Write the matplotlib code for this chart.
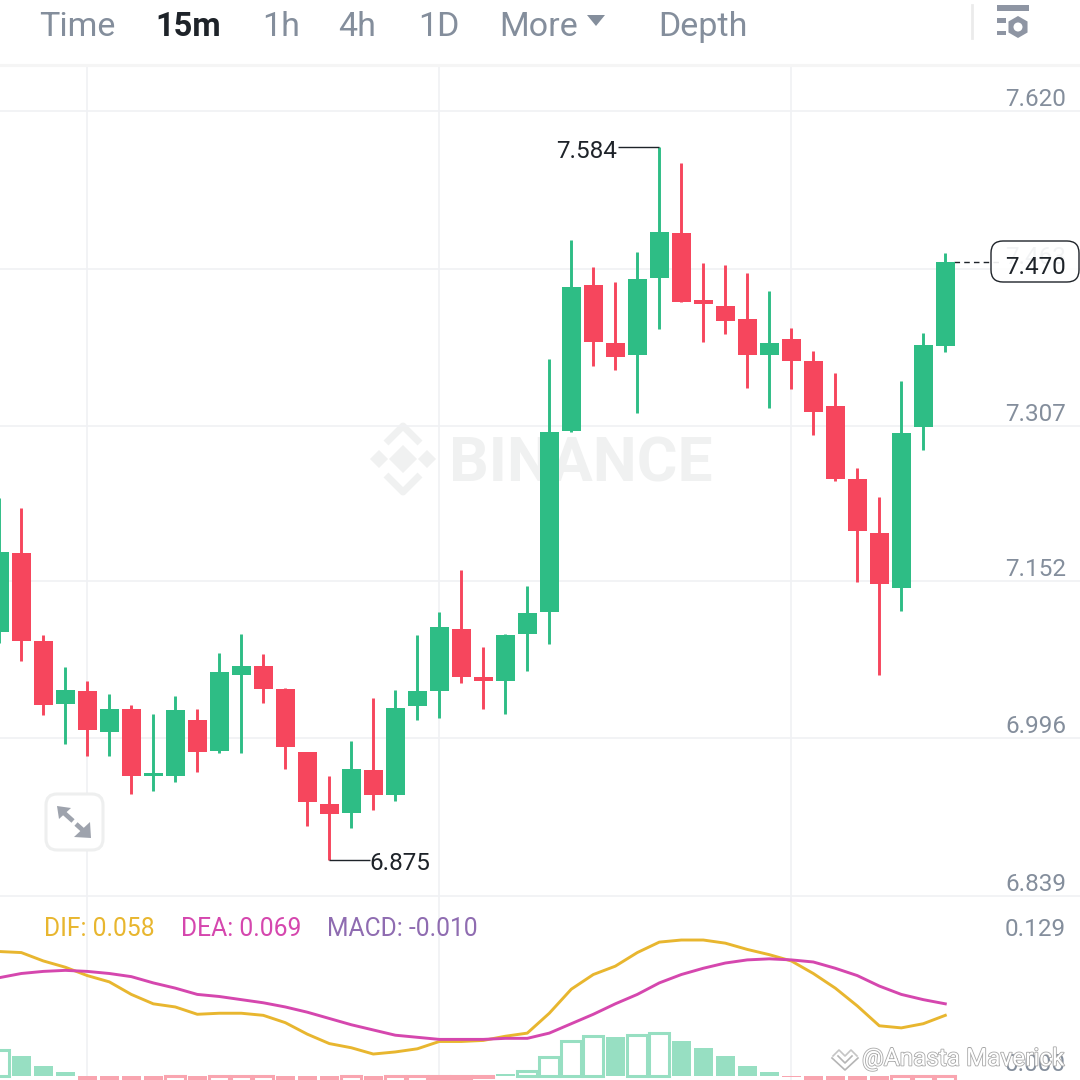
import numpy as np
import matplotlib
matplotlib.use('Agg')
import matplotlib.pyplot as plt
import matplotlib.patheffects as pe
from matplotlib.patches import FancyBboxPatch, Polygon, RegularPolygon, Circle

# candles, oldest first
opens = [7.102, 7.180, 7.093, 7.030, 7.043, 7.002, 7.025, 6.958, 6.958, 7.014, 6.983,
         7.059, 7.068, 7.045, 6.982, 6.931, 6.922, 6.964, 6.940, 7.028, 7.043, 7.105,
         7.057, 7.053, 7.100, 7.122, 7.302, 7.447, 7.389, 7.377, 7.454, 7.499, 7.432,
         7.426, 7.413, 7.377, 7.393, 7.371, 7.327, 7.254, 7.200, 7.146, 7.306, 7.386]
highs = [7.235, 7.225, 7.099, 7.067, 7.053, 7.040, 7.029, 7.020, 7.038, 7.025, 7.081,
         7.100, 7.080, 7.046, 6.982, 6.958, 6.993, 7.036, 7.044, 7.099, 7.122, 7.163,
         7.087, 7.100, 7.148, 7.373, 7.492, 7.465, 7.450, 7.480, 7.584, 7.568, 7.469,
         7.467, 7.459, 7.441, 7.404, 7.381, 7.359, 7.265, 7.236, 7.352, 7.399, 7.479]
lows = [7.091, 7.073, 7.019, 6.990, 6.978, 6.978, 6.941, 6.943, 6.952, 6.962, 6.981,
        6.981, 7.031, 6.965, 6.909, 6.875, 6.907, 6.925, 6.934, 7.014, 7.016, 7.051,
        7.025, 7.020, 7.063, 7.090, 7.301, 7.366, 7.362, 7.320, 7.403, 7.430, 7.390,
        7.398, 7.345, 7.325, 7.344, 7.298, 7.252, 7.151, 7.059, 7.123, 7.283, 7.380]
closes = [7.181, 7.093, 7.029, 7.044, 7.004, 7.025, 6.958, 6.961, 7.024, 6.982, 7.062,
          7.068, 7.045, 6.987, 6.933, 6.921, 6.965, 6.940, 7.026, 7.043, 7.107, 7.057,
          7.053, 7.099, 7.121, 7.301, 7.445, 7.390, 7.375, 7.453, 7.500, 7.430, 7.428,
          7.411, 7.377, 7.389, 7.371, 7.321, 7.254, 7.202, 7.149, 7.300, 7.387, 7.470]

# macd pane
dif = [0.119, 0.118, 0.110, 0.104, 0.096, 0.090, 0.078, 0.069, 0.066, 0.059, 0.060,
       0.060, 0.058, 0.051, 0.040, 0.031, 0.027, 0.021, 0.023, 0.026, 0.033, 0.033,
       0.034, 0.038, 0.041, 0.060, 0.083, 0.097, 0.105, 0.118, 0.128, 0.130, 0.130,
       0.127, 0.121, 0.116, 0.110, 0.098, 0.084, 0.067, 0.048, 0.046, 0.050, 0.058]
dea = [0.094, 0.098, 0.100, 0.101, 0.100, 0.098, 0.095, 0.089, 0.084, 0.078, 0.076,
       0.073, 0.070, 0.066, 0.061, 0.055, 0.049, 0.044, 0.039, 0.037, 0.035, 0.035,
       0.035, 0.036, 0.036, 0.041, 0.050, 0.059, 0.069, 0.078, 0.089, 0.097, 0.103,
       0.108, 0.111, 0.112, 0.111, 0.109, 0.103, 0.096, 0.086, 0.078, 0.073, 0.069]
macd = [0.025, 0.019, 0.010, 0.004, -0.004, -0.008, -0.017, -0.020, -0.018, -0.019, -0.016,
        -0.013, -0.012, -0.015, -0.021, -0.024, -0.022, -0.023, -0.016, -0.011, -0.002, -0.002,
        -0.001, 0.002, 0.005, 0.018, 0.033, 0.038, 0.037, 0.039, 0.041, 0.033, 0.027,
        0.019, 0.010, 0.004, -0.001, -0.011, -0.019, -0.029, -0.038, -0.032, -0.023, -0.010]
hollow = [1, 0, 0, 0, 0, 0, 0, 0, 1, 0, 1,
          1, 1, 0, 0, 0, 1, 0, 1, 1, 1, 1,
          1, 0, 1, 1, 1, 1, 0, 1, 1, 0, 0,
          0, 0, 0, 0, 0, 0, 0, 0, 1, 1, 1]

price_ticks = [7.620, 7.463, 7.307, 7.152, 6.996, 6.839]
macd_ticks = [0.129, 0.000]
grid_candles = [3, 19, 35]
tabs = ['Time', '15m', '1h', '4h', '1D', 'More', 'Depth']
tab_left = [39, 155, 262, 338, 418, 499, 658]

GREEN = '#2EBD85'
RED = '#F6465D'
GREEN_SOFT = '#97DFC2'
RED_SOFT = '#F9A5B0'
GRID = '#F0F1F4'
GREY = '#848E9C'
DARK = '#1E2329'
DIF_COL = '#E8B62F'
DEA_COL = '#D547AE'
MACD_COL = '#8F6CB1'
PX = 0.72  # points per pixel at dpi 100

plt.rcParams['font.family'] = ['Roboto', 'DejaVu Sans']

fig = plt.figure(figsize=(10.8, 10.8), dpi=100, facecolor='white')
back = fig.add_axes([0, 0, 1, 1], zorder=0)
ax = fig.add_axes([0, 184 / 1080, 1, 830 / 1080], zorder=1)
ax2 = fig.add_axes([0, 0, 1, 184 / 1080], zorder=1)
top = fig.add_axes([0, 0, 1, 1], zorder=2)

for a in (back, top):
    a.set_xlim(0, 1080)
    a.set_ylim(1080, 0)
    a.axis('off')
    a.patch.set_alpha(0)

x = np.arange(-1, 43)
xlim = (-21.3 / 22, (1080 - 21.3) / 22)

# price pane
ax.set_facecolor('none')
ax.set_xlim(*xlim)
ax.set_ylim(6.839, 7.665)
for s in ax.spines.values():
    s.set_visible(False)
ax.set_xticks([])
ax.set_yticks([])
for t in price_ticks:
    ax.axhline(t, color=GRID, lw=1.2, zorder=1, clip_on=False)
    ax.annotate('%.3f' % t, xy=(1, t), xycoords=ax.get_yaxis_transform(), xytext=(-14 * PX, 0),
                textcoords='offset points', ha='right', va='bottom', color=GREY, fontsize=17.5, zorder=2,
                annotation_clip=False)
for c in grid_candles:
    ax.axvline(c, color=GRID, lw=1.2, zorder=1)

cols = [GREEN if c >= o else RED for o, c in zip(opens, closes)]
ax.vlines(x, lows, highs, colors=cols, lw=2.1, zorder=3)
bottoms = np.minimum(opens, closes)
heights = np.abs(np.array(closes) - np.array(opens))
ax.bar(x, heights, bottom=bottoms, width=0.85, color=cols, zorder=4)

# high / low / last markers
ax.plot([29, 29 - 1.87], [7.584, 7.584], color=DARK, lw=1, zorder=3, solid_capstyle='butt')
ax.annotate('7.584', xy=(29 - 1.9, 7.584), xytext=(0, -4 * PX), textcoords='offset points',
            ha='right', va='center', color=DARK, fontsize=17.5)
ax.plot([14, 14 + 1.87], [6.875, 6.875], color=DARK, lw=1, zorder=3, solid_capstyle='butt')
ax.annotate('6.875', xy=(14 + 1.8, 6.875), xytext=(0, -4 * PX), textcoords='offset points',
            ha='left', va='center', color=DARK, fontsize=17.5)
ax.plot([42.4, 44.6], [7.470, 7.470], color=DARK, lw=1, ls=(0, (4, 3)), zorder=3)

# macd pane
ax2.set_facecolor('none')
ax2.set_xlim(*xlim)
ax2.set_ylim(-4 / 1046, 180 / 1046)
for s in ax2.spines.values():
    s.set_visible(False)
ax2.set_xticks([])
ax2.set_yticks([])
for c in grid_candles:
    ax2.axvline(c, color=GRID, lw=1.2, zorder=1)
for t in macd_ticks:
    ax2.annotate('%.3f' % t, xy=(1, t), xycoords=ax2.get_yaxis_transform(), xytext=(-14 * PX, 0),
                 textcoords='offset points', ha='right', va='bottom', color=GREY, fontsize=17.5, zorder=2,
                 annotation_clip=False)
for i, v, h in zip(x, macd, hollow):
    col = GREEN_SOFT if v >= 0 else RED_SOFT
    if h:
        ax2.bar(i, v, width=0.9, facecolor='white', edgecolor=col, lw=2.2, zorder=3)
    else:
        ax2.bar(i, v, width=0.87, color=col, zorder=3)
ax2.plot(x, dif, color=DIF_COL, lw=2.1, zorder=4)
ax2.plot(x, dea, color=DEA_COL, lw=2.1, zorder=4)

for label, lx, col in [('DIF: 0.058', 44, DIF_COL), ('DEA: 0.069', 181, DEA_COL), ('MACD: -0.010', 327, MACD_COL)]:
    top.text(lx, 929, label, color=col, fontsize=17.7, va='center', ha='left')

# BINANCE watermark
WM = '#F0F1F1'
for cx, cy, r in [(403, 459, 14), (379, 459, 9), (427, 459, 9)]:
    back.add_patch(RegularPolygon((cx, cy), 4, radius=r, orientation=0, color=WM, lw=0))
back.plot([386, 403, 420], [443, 426, 443], color=WM, lw=5, solid_capstyle='butt')
back.plot([386, 403, 420], [475, 492, 475], color=WM, lw=5, solid_capstyle='butt')
back.text(449, 464, 'BINANCE', color=WM, fontsize=44.8, fontweight='bold', va='center', ha='left')

# header
for label, lx in zip(tabs, tab_left):
    active = label == '15m'
    top.text(lx, 27, label, color=DARK if active else GREY, fontsize=23.5 if active else 24.5,
             fontweight='bold' if active else 'normal', va='center', ha='left')
top.add_patch(Polygon([(587, 15), (605, 15), (596, 26)], closed=True, color=GREY, lw=0))
top.plot([0, 1080], [65, 65], color='#F5F5F5', lw=2.2)
top.plot([972, 972], [5, 38], color='#EBEBEB', lw=2)
ICON = '#8E95A3'
top.fill([997, 1029, 1029, 997], [5, 5, 11, 11], color=ICON, lw=0)
top.fill([997, 1006, 1006, 997], [18, 18, 23, 23], color=ICON, lw=0)
top.fill([997, 1006, 1006, 997], [31, 31, 35, 35], color=ICON, lw=0)
top.add_patch(RegularPolygon((1018, 27), 6, radius=11, color=ICON, lw=0))
top.add_patch(Circle((1018, 27), 4.5, color='white', lw=0))

# expand button
top.add_patch(FancyBboxPatch((46, 794), 57, 56, boxstyle='round,pad=0,rounding_size=11',
                             fc='white', ec='#EEEFEF', lw=2.2))
top.add_patch(Polygon([(57, 806), (71, 808), (59, 819)], closed=True, color='#9EA3AD', lw=0))
top.add_patch(Polygon([(91, 838), (90, 822), (74, 837)], closed=True, color='#9EA3AD', lw=0))
top.plot([63, 73], [812, 821], color='#9EA3AD', lw=3.4, solid_capstyle='butt')
top.plot([76, 86], [824, 833], color='#9EA3AD', lw=3.4, solid_capstyle='butt')

# last price pill
top.add_patch(FancyBboxPatch((991, 241), 88, 41, boxstyle='round,pad=0,rounding_size=12',
                             fc=(1, 1, 1, 0.9), ec=DARK, lw=1))
top.text(1066, 267, '7.470', color=DARK, fontsize=17.5, ha='right', va='center')

# user watermark, bottom right
halo = [pe.withStroke(linewidth=1.2, foreground='#A8A8A8')]
top.text(862, 1059, '@Anasta Maverick', color='white', fontsize=17.5, ha='left', va='center', path_effects=halo)
top.plot([832, 845, 858], [1058, 1070, 1058], color='#B5B5B5', lw=1.2)
top.plot([838, 845, 852], [1056, 1063, 1056], color='#B5B5B5', lw=1.2)
top.plot([833, 839, 845, 851, 857], [1056, 1050, 1056, 1050, 1056], color='#C5C5C5', lw=1.2)

fig.savefig('out.png', dpi=100)
